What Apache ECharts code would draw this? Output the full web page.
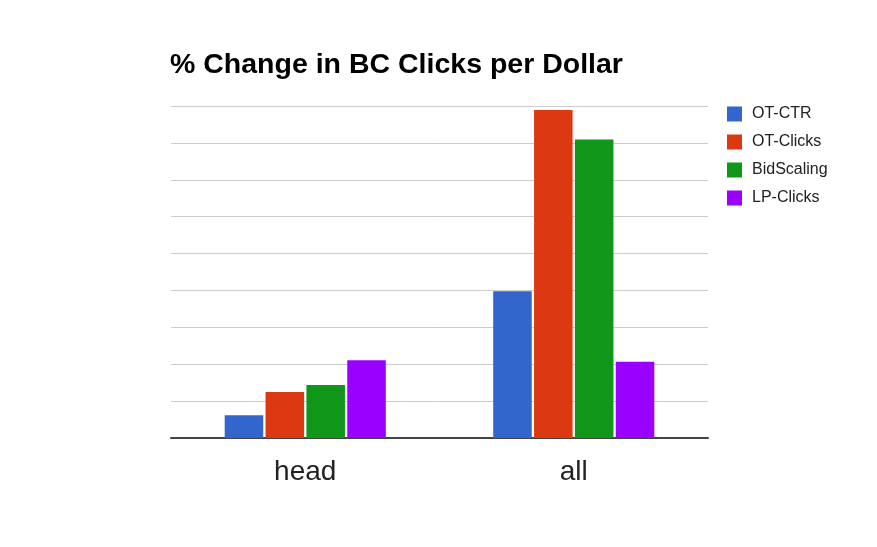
<!DOCTYPE html>
<html>
<head>
<meta charset="utf-8">
<script src="https://cdn.jsdelivr.net/npm/echarts@6/dist/echarts.min.js"></script>
<style>
  html, body { margin: 0; padding: 0; background: #fff; }
  #chart { width: 877px; height: 547px; }
</style>
</head>
<body>
<div id="chart"></div>
<script>
var categories = ['head', 'all'];
var seriesNames = ['OT-CTR', 'OT-Clicks', 'BidScaling', 'LP-Clicks'];
var otCtr = [0.62, 3.98];
var otClicks = [1.25, 8.89];
var bidScaling = [1.44, 8.09];
var lpClicks = [2.11, 2.07];
var colors = ['#3366cc', '#dc3912', '#109618', '#9900ff'];

var chart = echarts.init(document.getElementById('chart'));

var values = [otCtr, otClicks, bidScaling, lpClicks];
var series = seriesNames.map(function (name, i) {
    return {
        name: name,
        type: 'bar',
        data: values[i],
        barGap: '6%',
        barCategoryGap: '40%',
        itemStyle: { color: colors[i] }
    };
});

chart.setOption({
    animation: false,
    title: {
        text: '% Change in BC Clicks per Dollar',
        left: 165,
        top: 46,
        textStyle: {
            fontFamily: '"Liberation Sans", Arial, sans-serif',
            fontWeight: 'bold',
            fontSize: 28.5,
            color: '#000'
        }
    },
    legend: {
        orient: 'vertical',
        left: 727,
        top: 106,
        padding: 0,
        itemWidth: 15,
        itemHeight: 15,
        itemGap: 12,
        icon: 'rect',
        textStyle: {
            fontFamily: '"Liberation Sans", Arial, sans-serif',
            fontSize: 16,
            color: '#222',
            padding: [0, 0, 0, 5]
        },
        data: seriesNames
    },
    grid: {
        left: 171,
        right: 169,
        top: 106,
        bottom: 109
    },
    xAxis: {
        type: 'category',
        data: categories,
        axisTick: { show: false },
        axisLine: { lineStyle: { color: '#444', width: 2 } },
        axisLabel: {
            margin: 20,
            fontFamily: '"Liberation Sans", Arial, sans-serif',
            fontSize: 28,
            color: '#222'
        }
    },
    yAxis: {
        type: 'value',
        min: 0,
        max: 9,
        interval: 1,
        axisLabel: { show: false },
        axisLine: { show: false },
        axisTick: { show: false },
        splitLine: { lineStyle: { color: '#cccccc', width: 1 } }
    },
    series: series
});
</script>
</body>
</html>
